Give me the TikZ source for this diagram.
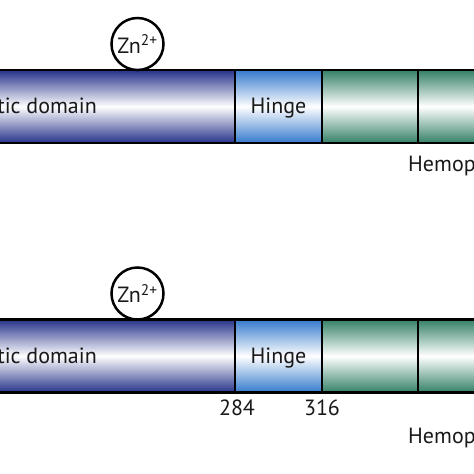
\documentclass[tikz,border=0pt]{standalone}
\usepackage{fontspec}
\setmainfont{PT Sans}
\definecolor{catdark}{RGB}{38,50,138}
\definecolor{hingecol}{RGB}{52,122,205}
\definecolor{hemocol}{RGB}{52,128,102}
\definecolor{txt}{RGB}{25,25,25}
\begin{document}
\begin{tikzpicture}[x=1pt,y=-1pt,
  seg/.style={draw=black, line width=2.7pt, minimum height=73pt, inner sep=0pt, outer sep=0pt},
  catseg/.style={seg, top color=catdark, bottom color=catdark, middle color=white},
  hingeseg/.style={seg, top color=hingecol, bottom color=hingecol, middle color=white},
  hemoseg/.style={seg, top color=hemocol, bottom color=hemocol, middle color=white},
  lbl/.style={text=txt, font=\fontsize{22}{26}\selectfont, inner sep=0pt},
  zn/.style={circle, draw=black, line width=2.5pt, fill=white, minimum size=52pt, inner sep=0pt, text=txt, font=\fontsize{22}{26}\selectfont}
]
\useasboundingbox (0,0) rectangle (474,474);
\clip (0,0) rectangle (474,474);
% top construct
\node[catseg, minimum width=275pt] (cat1) at (97.5,106.5) {};
\node[hingeseg, minimum width=87pt] (hinge1) at (278.5,106.5) {};
\node[hemoseg, minimum width=96pt] (hemoA1) at (370,106.5) {};
\node[hemoseg, minimum width=100pt] (hemoB1) at (468,106.5) {};
\node[zn] (zn1) at (137.5,44) {Zn\textsuperscript{2+}};
\node[lbl, anchor=base east] (catl1) at (97,113) {Catalytic domain};
\node[lbl, anchor=base] (hingel1) at (278.5,113) {Hinge};
\node[lbl, anchor=base west] (hemol1) at (408,171) {Hemopexin domain};
% bottom construct
\node[catseg, minimum width=275pt] (cat2) at (97.5,356) {};
\node[hingeseg, minimum width=87pt] (hinge2) at (278.5,356) {};
\node[hemoseg, minimum width=96pt] (hemoA2) at (370,356) {};
\node[hemoseg, minimum width=100pt] (hemoB2) at (468,356) {};
\node[zn] (zn2) at (137.5,293.5) {Zn\textsuperscript{2+}};
\node[lbl, anchor=base east] (catl2) at (97,363) {Catalytic domain};
\node[lbl, anchor=base] (hingel2) at (278.5,363) {Hinge};
\node[lbl, anchor=base] (n284) at (237,415) {284};
\node[lbl, anchor=base] (n316) at (322,415) {316};
\node[lbl, anchor=base west] (hemol2) at (408,443) {Hemopexin domain};
\end{tikzpicture}
\end{document}
